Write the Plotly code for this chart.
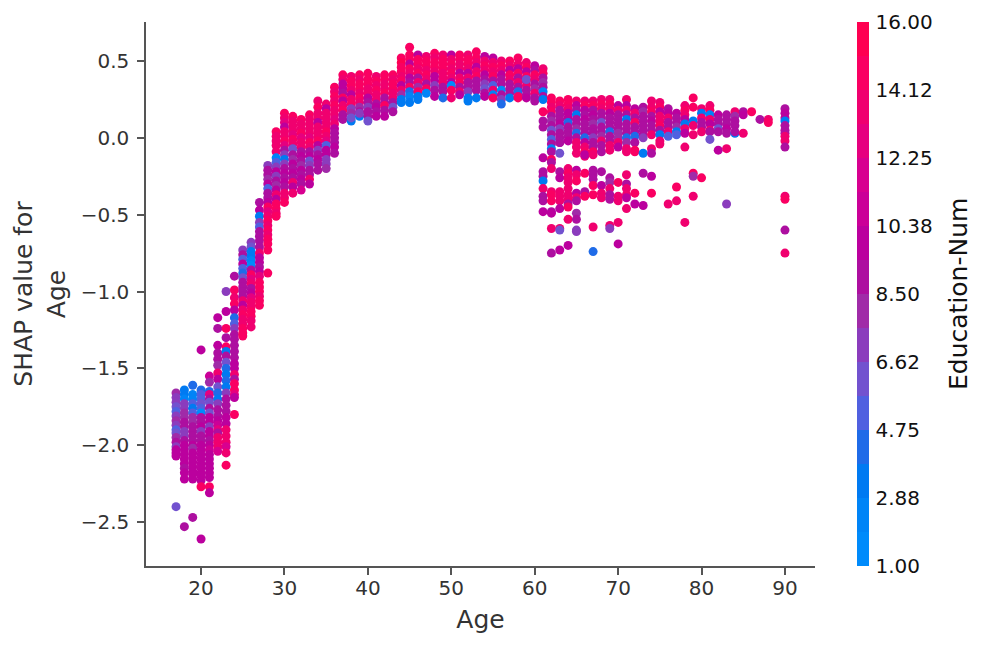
import plotly.graph_objects as go

# (SHAP value, Education-Num) for each Age column
age_17 = [(-1.66,8),(-1.69,7),(-1.72,7),(-1.75,6),(-1.78,5),(-1.81,7),(-1.84,8),(-1.87,7),(-1.90,5),(-1.92,6),(-1.95,8),(-1.98,9),(-2.01,7),(-2.03,10),(-2.05,10),(-2.07,10),(-2.40,6)]
age_18 = [(-1.64,3),(-1.67,3),(-1.70,2),(-1.73,7),(-1.76,7),(-1.79,8),(-1.82,8),(-1.85,9),(-1.88,9),(-1.91,7),(-1.94,7),(-1.97,9),(-2.00,10),(-2.03,10),(-2.06,10),(-2.09,10),(-2.12,10),(-2.15,9),(-2.18,10),(-2.22,10),(-2.53,9)]
age_19 = [(-1.61,4),(-1.67,2),(-1.70,2),(-1.73,5),(-1.76,3),(-1.79,5),(-1.82,8),(-1.85,8),(-1.88,9),(-1.91,9),(-1.94,9),(-1.97,9),(-2.00,10),(-2.02,8),(-2.05,10),(-2.08,10),(-2.11,10),(-2.14,10),(-2.17,10),(-2.19,10),(-2.22,10),(-2.47,9)]
age_20 = [(-1.38,10),(-1.64,4),(-1.67,5),(-1.70,5),(-1.73,6),(-1.76,5),(-1.79,1),(-1.82,9),(-1.85,9),(-1.88,10),(-1.91,7),(-1.94,9),(-1.97,9),(-2.00,10),(-2.03,10),(-2.06,10),(-2.09,10),(-2.12,10),(-2.15,10),(-2.18,10),(-2.20,10),(-2.23,10),(-2.27,15),(-2.61,10)]
age_21 = [(-1.55,11),(-1.59,8),(-1.65,4),(-1.67,13),(-1.70,9),(-1.72,6),(-1.76,9),(-1.79,6),(-1.82,10),(-1.85,10),(-1.88,7),(-1.91,10),(-1.94,10),(-1.97,9),(-2.00,10),(-2.03,11),(-2.06,10),(-2.09,10),(-2.12,10),(-2.15,10),(-2.18,10),(-2.21,10),(-2.27,15),(-2.31,10)]
age_22 = [(-1.17,10),(-1.24,9),(-1.35,10),(-1.40,9),(-1.44,9),(-1.48,8),(-1.53,14),(-1.57,10),(-1.62,6),(-1.66,4),(-1.70,3),(-1.73,7),(-1.77,9),(-1.81,9),(-1.84,10),(-1.87,11),(-1.90,13),(-1.92,9),(-1.95,14),(-1.98,14),(-2.01,14),(-2.04,12)]
age_23 = [(-1.00,7),(-1.13,10),(-1.24,15),(-1.30,9),(-1.36,15),(-1.39,3),(-1.42,9),(-1.46,6),(-1.50,4),(-1.54,3),(-1.58,4),(-1.62,3),(-1.66,7),(-1.70,9),(-1.74,9),(-1.78,9),(-1.82,10),(-1.86,10),(-1.90,14),(-1.94,14),(-1.98,14),(-2.01,12),(-2.05,14),(-2.13,15)]
age_24 = [(-0.90,9),(-0.99,15),(-1.04,14),(-1.08,15),(-1.12,10),(-1.17,4),(-1.21,5),(-1.24,7),(-1.28,9),(-1.31,9),(-1.35,9),(-1.39,9),(-1.43,9),(-1.47,10),(-1.50,10),(-1.54,14),(-1.57,9),(-1.60,15),(-1.64,15),(-1.67,13),(-1.69,10),(-1.80,15)]
age_25 = [(-0.73,7),(-0.76,9),(-0.79,5),(-0.82,10),(-0.85,5),(-0.88,4),(-0.91,6),(-0.94,9),(-0.97,9),(-1.00,9),(-1.03,9),(-1.06,14),(-1.09,10),(-1.12,14),(-1.15,15),(-1.18,14),(-1.21,14),(-1.24,15),(-1.27,15),(-1.29,15)]
age_26 = [(-0.68,7),(-0.71,6),(-0.74,3),(-0.77,3),(-0.80,2),(-0.83,1),(-0.86,9),(-0.89,15),(-0.92,13),(-0.95,14),(-0.98,9),(-1.01,10),(-1.04,13),(-1.07,14),(-1.10,14),(-1.13,15),(-1.16,15),(-1.19,14),(-1.23,14)]
age_27 = [(-0.42,9),(-0.47,10),(-0.51,3),(-0.55,7),(-0.58,5),(-0.61,9),(-0.64,9),(-0.67,9),(-0.71,9),(-0.75,14),(-0.78,10),(-0.81,10),(-0.84,9),(-0.87,10),(-0.90,13),(-0.94,15),(-0.97,15),(-1.00,15),(-1.03,14),(-1.06,15),(-1.09,15)]
age_28 = [(-0.18,7),(-0.21,9),(-0.24,9),(-0.27,8),(-0.30,10),(-0.33,5),(-0.36,9),(-0.39,9),(-0.42,10),(-0.45,15),(-0.48,13),(-0.51,14),(-0.54,15),(-0.57,14),(-0.60,15),(-0.63,14),(-0.66,15),(-0.69,15),(-0.73,15),(-0.88,15)]
age_29 = [(0.04,15),(0.01,14),(-0.02,14),(-0.05,14),(-0.09,14),(-0.13,2),(-0.16,5),(-0.19,7),(-0.22,10),(-0.25,7),(-0.28,9),(-0.31,8),(-0.34,10),(-0.37,14),(-0.40,10),(-0.43,15),(-0.46,15),(-0.49,14),(-0.51,15)]
age_30 = [(0.16,15),(0.13,14),(0.10,13),(0.07,10),(0.04,14),(0.01,14),(-0.02,15),(-0.05,13),(-0.08,9),(-0.11,7),(-0.14,3),(-0.17,7),(-0.20,9),(-0.23,10),(-0.26,9),(-0.29,10),(-0.32,9),(-0.36,14),(-0.39,14),(-0.42,15)]
age_31 = [(0.14,15),(0.11,14),(0.08,14),(0.05,14),(0.02,13),(-0.01,15),(-0.04,14),(-0.07,6),(-0.11,9),(-0.14,8),(-0.17,10),(-0.20,9),(-0.23,10),(-0.26,9),(-0.29,14),(-0.32,10),(-0.36,14)]
age_32 = [(0.12,15),(0.09,14),(0.06,14),(0.03,15),(0.00,13),(-0.03,14),(-0.06,14),(-0.09,9),(-0.12,10),(-0.15,9),(-0.18,8),(-0.21,10),(-0.24,9),(-0.27,10),(-0.30,9),(-0.34,12)]
age_33 = [(0.15,15),(0.12,14),(0.09,14),(0.06,14),(0.03,14),(0.00,13),(-0.03,15),(-0.06,14),(-0.09,9),(-0.12,10),(-0.15,6),(-0.18,7),(-0.21,9),(-0.24,9),(-0.27,14),(-0.30,10)]
age_34 = [(0.24,14),(0.20,15),(0.16,14),(0.13,14),(0.10,10),(0.07,14),(0.04,14),(0.01,14),(-0.02,15),(-0.05,10),(-0.08,7),(-0.11,9),(-0.14,10),(-0.17,9),(-0.21,9)]
age_35 = [(0.22,14),(0.19,10),(0.16,14),(0.13,14),(0.10,14),(0.07,14),(0.04,15),(0.01,14),(-0.02,13),(-0.05,5),(-0.08,10),(-0.11,10),(-0.14,7),(-0.17,7),(-0.20,8)]
age_36 = [(0.33,15),(0.30,14),(0.27,15),(0.24,14),(0.21,15),(0.18,14),(0.15,14),(0.12,13),(0.09,14),(0.06,10),(0.03,9),(0.00,9),(-0.03,9),(-0.06,10),(-0.10,9)]
age_37 = [(0.41,15),(0.38,14),(0.35,10),(0.32,10),(0.29,9),(0.26,15),(0.24,10),(0.21,14),(0.18,15),(0.15,9),(0.12,9)]
age_38 = [(0.40,14),(0.37,15),(0.34,15),(0.31,14),(0.28,10),(0.25,14),(0.22,15),(0.19,7),(0.16,8),(0.11,3),(0.13,6)]
age_39 = [(0.41,15),(0.38,14),(0.35,15),(0.32,15),(0.29,14),(0.26,15),(0.23,14),(0.20,8),(0.17,9),(0.14,3),(0.16,7)]
age_40 = [(0.42,15),(0.38,15),(0.35,15),(0.32,14),(0.29,14),(0.26,10),(0.23,9),(0.20,7),(0.17,9),(0.14,9),(0.11,6)]
age_41 = [(0.40,14),(0.37,15),(0.34,14),(0.31,15),(0.28,14),(0.25,14),(0.22,9),(0.20,10),(0.17,9),(0.14,10)]
age_42 = [(0.41,15),(0.38,15),(0.35,14),(0.32,14),(0.29,15),(0.26,9),(0.23,9),(0.21,15),(0.18,9),(0.14,10)]
age_43 = [(0.41,15),(0.38,14),(0.35,15),(0.32,15),(0.29,14),(0.26,14),(0.23,9),(0.20,6),(0.17,9)]
age_44 = [(0.52,15),(0.49,16),(0.46,15),(0.43,15),(0.40,14),(0.37,15),(0.34,10),(0.31,14),(0.28,8),(0.25,3),(0.23,3)]
age_45 = [(0.59,15),(0.54,15),(0.51,15),(0.48,10),(0.45,15),(0.42,14),(0.39,10),(0.36,9),(0.33,15),(0.30,4),(0.27,2),(0.23,3)]
age_46 = [(0.54,10),(0.51,15),(0.48,15),(0.45,14),(0.42,15),(0.39,9),(0.36,14),(0.33,8),(0.30,15),(0.27,3),(0.25,3)]
age_47 = [(0.53,14),(0.50,15),(0.47,15),(0.44,14),(0.41,15),(0.38,14),(0.35,9),(0.32,15),(0.29,2)]
age_48 = [(0.55,15),(0.52,14),(0.49,15),(0.46,15),(0.43,14),(0.40,10),(0.37,10),(0.34,7),(0.31,9),(0.27,10)]
age_49 = [(0.54,14),(0.51,15),(0.48,15),(0.45,15),(0.42,14),(0.39,14),(0.36,14),(0.33,9),(0.30,9),(0.26,4)]
age_50 = [(0.54,10),(0.51,14),(0.48,15),(0.45,14),(0.42,15),(0.39,14),(0.36,10),(0.34,1),(0.31,15),(0.26,14)]
age_51 = [(0.54,15),(0.51,15),(0.48,14),(0.45,14),(0.42,10),(0.39,14),(0.36,15),(0.33,9),(0.30,14),(0.28,10)]
age_52 = [(0.54,14),(0.51,15),(0.48,15),(0.45,14),(0.42,10),(0.39,14),(0.36,9),(0.33,9),(0.30,7),(0.26,3),(0.24,3)]
age_53 = [(0.56,15),(0.52,15),(0.49,14),(0.46,10),(0.43,14),(0.40,15),(0.37,9),(0.34,9),(0.31,9),(0.26,3)]
age_54 = [(0.53,10),(0.50,14),(0.47,15),(0.44,14),(0.41,10),(0.38,9),(0.35,7),(0.32,6),(0.29,9),(0.27,10)]
age_55 = [(0.52,10),(0.49,14),(0.46,15),(0.43,14),(0.40,15),(0.37,9),(0.34,5),(0.31,14),(0.28,2),(0.26,15)]
age_56 = [(0.50,14),(0.47,15),(0.44,14),(0.41,10),(0.38,9),(0.35,9),(0.31,1),(0.28,9),(0.25,7),(0.22,4)]
age_57 = [(0.50,15),(0.47,14),(0.44,10),(0.41,15),(0.38,14),(0.35,9),(0.32,9),(0.29,9),(0.26,3)]
age_58 = [(0.52,15),(0.48,14),(0.45,10),(0.42,15),(0.39,9),(0.36,14),(0.33,9),(0.30,4),(0.27,14),(0.26,15)]
age_59 = [(0.49,14),(0.46,15),(0.43,10),(0.40,15),(0.37,9),(0.34,14),(0.38,6),(0.31,9),(0.28,9),(0.26,10)]
age_60 = [(0.47,10),(0.44,9),(0.41,15),(0.38,14),(0.35,9),(0.32,8),(0.29,14),(0.26,9),(0.24,9)]
age_61 = [(0.45,14),(0.42,15),(0.39,9),(0.36,8),(0.33,9),(0.30,2),(0.27,9),(0.25,3),(0.17,15),(0.11,9),(0.07,9),(-0.13,10),(-0.22,9),(-0.25,9),(-0.28,3),(-0.33,14),(-0.38,9),(-0.41,9),(-0.48,10)]
age_62 = [(0.26,15),(0.23,15),(0.20,14),(0.17,15),(0.14,9),(0.11,8),(0.08,9),(0.05,6),(0.02,9),(-0.01,5),(-0.04,9),(-0.07,2),(-0.09,9),(-0.14,15),(-0.16,9),(-0.20,14),(-0.35,14),(-0.37,15),(-0.41,15),(-0.48,9),(-0.49,10),(-0.59,14),(-0.75,9)]
age_63 = [(0.24,15),(0.21,14),(0.18,9),(0.15,9),(0.12,9),(0.09,10),(0.06,7),(0.03,9),(0.00,9),(-0.03,8),(-0.03,9),(-0.10,6),(-0.22,9),(-0.26,10),(-0.35,14),(-0.38,14),(-0.41,14),(-0.46,10),(-0.59,14),(-0.60,6),(-0.73,10)]
age_64 = [(0.25,15),(0.22,15),(0.19,14),(0.16,10),(0.13,10),(0.10,4),(0.07,9),(0.04,9),(0.01,9),(-0.02,10),(-0.20,14),(-0.23,15),(-0.26,14),(-0.29,14),(-0.33,14),(-0.37,14),(-0.40,14),(-0.43,9),(-0.45,15),(-0.53,14),(-0.70,10)]
age_65 = [(0.24,14),(0.21,10),(0.18,9),(0.15,3),(0.12,9),(0.09,9),(0.06,8),(0.03,4),(0.00,9),(-0.03,14),(-0.06,14),(-0.10,14),(-0.21,10),(-0.24,14),(-0.28,15),(-0.36,10),(-0.39,14),(-0.41,9),(-0.49,8),(-0.53,9),(-0.60,7),(-0.61,7)]
age_66 = [(0.24,14),(0.21,15),(0.18,10),(0.15,9),(0.12,10),(0.09,9),(0.06,9),(0.03,9),(0.00,4),(-0.03,10),(-0.06,14),(-0.09,15),(-0.12,14),(-0.11,10),(-0.23,15),(-0.35,9),(-0.38,15)]
age_67 = [(0.24,14),(0.21,15),(0.18,9),(0.15,10),(0.12,9),(0.09,8),(0.06,9),(0.03,9),(0.00,7),(-0.03,9),(-0.06,9),(-0.09,15),(-0.11,14),(-0.21,9),(-0.24,9),(-0.27,9),(-0.31,15),(-0.37,15),(-0.58,14),(-0.74,4)]
age_68 = [(0.25,14),(0.22,15),(0.19,14),(0.16,9),(0.13,9),(0.10,6),(0.07,9),(0.04,9),(0.01,8),(-0.02,14),(-0.05,9),(-0.09,9),(-0.22,9),(-0.31,10),(-0.36,14),(-0.39,14)]
age_69 = [(0.25,14),(0.22,15),(0.19,14),(0.16,10),(0.13,9),(0.10,9),(0.07,9),(0.04,4),(0.01,9),(-0.02,9),(-0.05,14),(-0.08,14),(-0.26,9),(-0.29,8),(-0.33,14),(-0.37,9),(-0.40,9),(-0.57,14),(-0.59,7)]
age_70 = [(0.21,10),(0.18,14),(0.15,9),(0.12,9),(0.09,9),(0.06,9),(0.03,8),(0.00,8),(-0.03,14),(-0.06,10),(-0.29,15),(-0.38,14),(-0.41,14),(-0.55,14),(-0.69,10)]
age_71 = [(0.25,14),(0.21,10),(0.18,14),(0.15,9),(0.12,3),(0.09,9),(0.06,9),(0.03,9),(0.00,4),(-0.03,8),(-0.07,14),(-0.09,14),(-0.24,14),(-0.30,9),(-0.33,14),(-0.37,14),(-0.39,10),(-0.46,14)]
age_72 = [(0.19,10),(0.16,14),(0.13,9),(0.10,15),(0.07,9),(0.04,9),(0.01,4),(-0.03,9),(-0.08,15),(-0.09,15),(-0.36,15),(-0.43,10)]
age_73 = [(0.20,9),(0.17,8),(0.14,9),(0.11,9),(0.08,9),(0.05,9),(0.02,9),(0.00,7),(-0.10,3),(-0.23,9),(-0.44,10)]
age_74 = [(0.24,14),(0.20,14),(0.17,15),(0.14,9),(0.11,10),(0.08,9),(0.05,9),(0.02,14),(-0.07,14),(-0.10,9),(-0.25,10),(-0.36,15)]
age_75 = [(0.23,14),(0.20,15),(0.17,10),(0.14,14),(0.11,14),(0.08,15),(0.05,9),(0.02,3),(-0.02,14),(-0.04,14)]
age_76 = [(0.19,9),(0.16,10),(0.13,14),(0.10,9),(0.07,9),(0.04,14),(0.01,5),(-0.43,14)]
age_77 = [(0.16,10),(0.13,9),(0.10,9),(0.07,8),(0.04,3),(0.02,5),(-0.32,15),(-0.41,14)]
age_78 = [(0.21,14),(0.18,15),(0.15,14),(0.12,10),(0.09,3),(0.06,14),(0.03,10),(-0.06,14),(-0.55,14)]
age_79 = [(0.26,15),(0.20,15),(0.11,3),(0.08,14),(0.02,14),(-0.23,15),(-0.25,8),(-0.38,14)]
age_80 = [(0.19,14),(0.16,3),(0.13,14),(0.10,9),(0.07,9),(0.04,14),(-0.26,15)]
age_81 = [(0.21,14),(0.18,15),(0.15,2),(0.12,14),(0.09,10),(0.05,14),(0.04,9),(-0.01,6)]
age_82 = [(0.15,10),(0.12,9),(0.09,9),(0.06,6),(0.04,9),(-0.08,10)]
age_83 = [(0.15,9),(0.12,9),(0.09,9),(0.06,10),(0.03,9),(-0.07,14),(-0.43,7)]
age_84 = [(0.17,14),(0.14,8),(0.11,9),(0.08,9),(0.03,3),(0.04,9)]
age_85 = [(0.17,9),(0.15,10),(0.03,14)]
age_86 = [(0.17,15)]
age_87 = [(0.12,9)]
age_88 = [(0.12,14),(0.10,15)]
age_90 = [(0.19,9),(0.16,10),(0.13,10),(0.11,3),(0.08,9),(0.05,9),(0.03,9),(0.01,14),(-0.02,14),(-0.06,9),(-0.38,14),(-0.40,15),(-0.60,9),(-0.75,14)]

columns = {17: age_17, 18: age_18, 19: age_19, 20: age_20, 21: age_21, 22: age_22, 23: age_23, 24: age_24,
           25: age_25, 26: age_26, 27: age_27, 28: age_28, 29: age_29, 30: age_30, 31: age_31, 32: age_32,
           33: age_33, 34: age_34, 35: age_35, 36: age_36, 37: age_37, 38: age_38, 39: age_39, 40: age_40,
           41: age_41, 42: age_42, 43: age_43, 44: age_44, 45: age_45, 46: age_46, 47: age_47, 48: age_48,
           49: age_49, 50: age_50, 51: age_51, 52: age_52, 53: age_53, 54: age_54, 55: age_55, 56: age_56,
           57: age_57, 58: age_58, 59: age_59, 60: age_60, 61: age_61, 62: age_62, 63: age_63, 64: age_64,
           65: age_65, 66: age_66, 67: age_67, 68: age_68, 69: age_69, 70: age_70, 71: age_71, 72: age_72,
           73: age_73, 74: age_74, 75: age_75, 76: age_76, 77: age_77, 78: age_78, 79: age_79, 80: age_80,
           81: age_81, 82: age_82, 83: age_83, 84: age_84, 85: age_85, 86: age_86, 87: age_87, 88: age_88,
           90: age_90}

# One colour per Education-Num level, low to high
level_colors = ["#008bfb", "#0084f7", "#007af2", "#1f6be8", "#5060e0", "#7252cf", "#8b3cbd", "#a02ba8",
                "#ad0fa0", "#bb009e", "#cb0098", "#d80090", "#e6007f", "#f0006f", "#fa0062", "#ff0051"]
cbar_tickvals = [1, 2.88, 4.75, 6.62, 8.5, 10.38, 12.25, 14.12, 16]
cbar_ticktext = ["1.00", "2.88", "4.75", "6.62", "8.50", "10.38", "12.25", "14.12", "16.00"]

ages, shap_values, education = [], [], []
for age, points in columns.items():
    for value, edu in points:
        ages.append(age)
        shap_values.append(value)
        education.append(edu)

# Stepped colour scale so the colour bar shows discrete bands
n = len(level_colors)
colorscale = []
for i, c in enumerate(level_colors):
    colorscale.append([i / n, c])
    colorscale.append([(i + 1) / n, c])

fig = go.Figure(go.Scatter(
    x=ages,
    y=shap_values,
    mode="markers",
    marker=dict(
        size=9,
        color=education,
        cmin=1,
        cmax=16,
        colorscale=colorscale,
        line=dict(width=0),
        colorbar=dict(
            x=(857 - 146) / 669, xanchor="left",
            y=0, yanchor="bottom",
            lenmode="fraction", len=1,
            thicknessmode="pixels", thickness=12,
            xpad=0, ypad=0,
            outlinewidth=0,
            ticks="outside", ticklen=3, tickwidth=1, tickcolor="rgba(0,0,0,0)",
            tickvals=cbar_tickvals,
            ticktext=cbar_ticktext,
            tickfont=dict(family="DejaVu Sans", size=20, color="#111111"),
        ),
    ),
))

axis_style = dict(
    showgrid=False, zeroline=False, showline=True, mirror=False,
    linecolor="#555555", linewidth=1.5,
    ticks="outside", ticklen=7, tickwidth=1.5, tickcolor="#555555",
    tickfont=dict(family="DejaVu Sans", size=20, color="#333333"),
)

fig.update_xaxes(range=[13.4, 93.6], tickvals=[20, 30, 40, 50, 60, 70, 80, 90],
                 ticklabelstandoff=-4,
                 title=dict(text="Age", standoff=12, font=dict(family="DejaVu Sans", size=25, color="#333333")),
                 **axis_style)
fig.update_yaxes(range=[-2.786, 0.754], tickvals=[-2.5, -2, -1.5, -1, -0.5, 0, 0.5],
                 ticktext=["\u22122.5", "\u22122.0", "\u22121.5", "\u22121.0", "\u22120.5", "0.0", "0.5"],
                 ticklabelstandoff=4,
                 title=dict(text="SHAP value for<br>Age", standoff=8, font=dict(family="DejaVu Sans", size=25, color="#333333")),
                 **axis_style)

# Colour bar title as an annotation, plotly's own title sits too close to the labels
fig.add_annotation(text="Education-Num", textangle=-90, showarrow=False,
                   xref="paper", yref="paper", x=(958 - 146) / 669, y=0.5,
                   xanchor="center", yanchor="middle",
                   font=dict(family="DejaVu Sans", size=25, color="#111111"))

fig.update_layout(
    width=987, height=648, autosize=False,
    margin=dict(l=146, r=172, t=22, b=82, pad=0),
    plot_bgcolor="white", paper_bgcolor="white",
    showlegend=False,
)

# The page's default body margin would push the chart 8px down and right
fig.write_html("out.html", config={"displayModeBar": False},
               post_script="document.body.style.margin='0';")
